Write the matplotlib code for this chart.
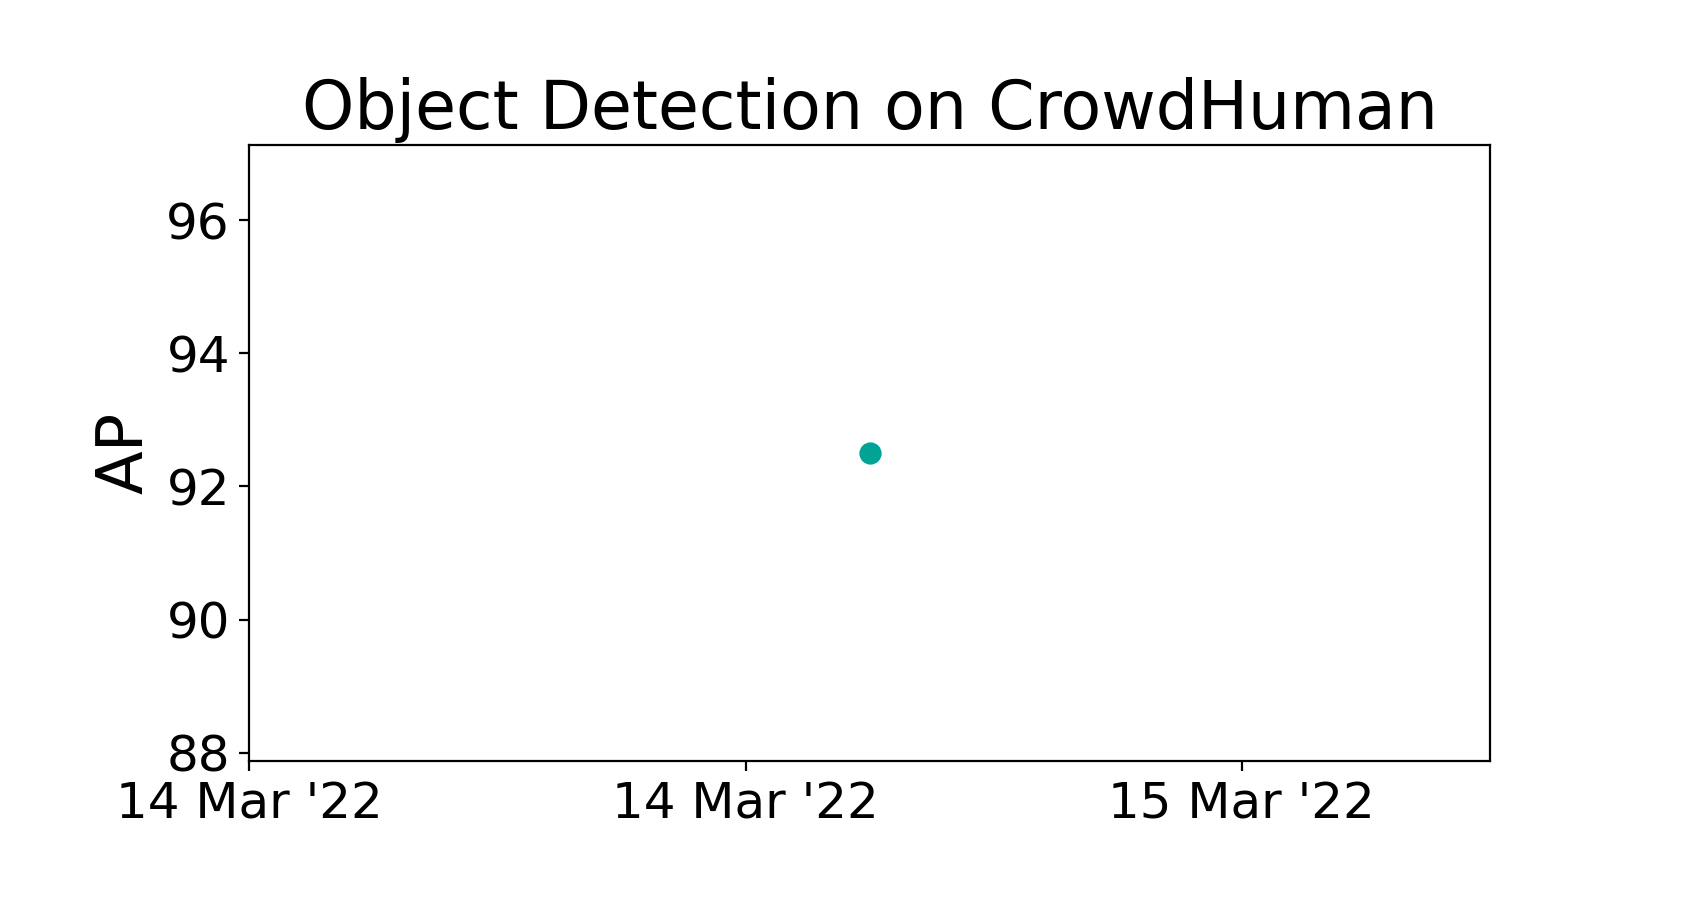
#!/usr/bin/env python3
"""Single-result AP chart for object detection on CrowdHuman."""

from datetime import datetime, timedelta

import matplotlib

matplotlib.use("Agg")
import matplotlib.dates as mdates
import matplotlib.pyplot as plt

TITLE = "Object Detection on CrowdHuman"
Y_LABEL = "AP"
DATES = [datetime(2022, 3, 14, 15, 0)]
AP_VALUES = [92.5]
POINT_COLOR = "#00a396"


def make_figure() -> None:
    fig = plt.figure(figsize=(8.5, 4.5), dpi=200)
    ax = fig.add_axes([0.1467, 0.1543, 0.7296, 0.6843])
    ax.plot(DATES, AP_VALUES, "o", color=POINT_COLOR, markersize=7)

    pad = timedelta(hours=15)
    ax.set_xlim(min(DATES) - pad, max(DATES) + pad)
    ax.set_ylim(min(AP_VALUES) * 0.95, max(AP_VALUES) * 1.05)
    ax.set_yticks([88, 90, 92, 94, 96])

    ax.xaxis.set_major_locator(mdates.HourLocator(byhour=[0, 12]))
    ax.xaxis.set_major_formatter(mdates.DateFormatter("%d %b '%y"))
    ax.tick_params(labelsize=18)

    ax.set_title(TITLE, fontsize=24)
    ax.set_ylabel(Y_LABEL, fontsize=23)

    fig.savefig("out.png", dpi=200)
    plt.close(fig)


if __name__ == "__main__":
    make_figure()
